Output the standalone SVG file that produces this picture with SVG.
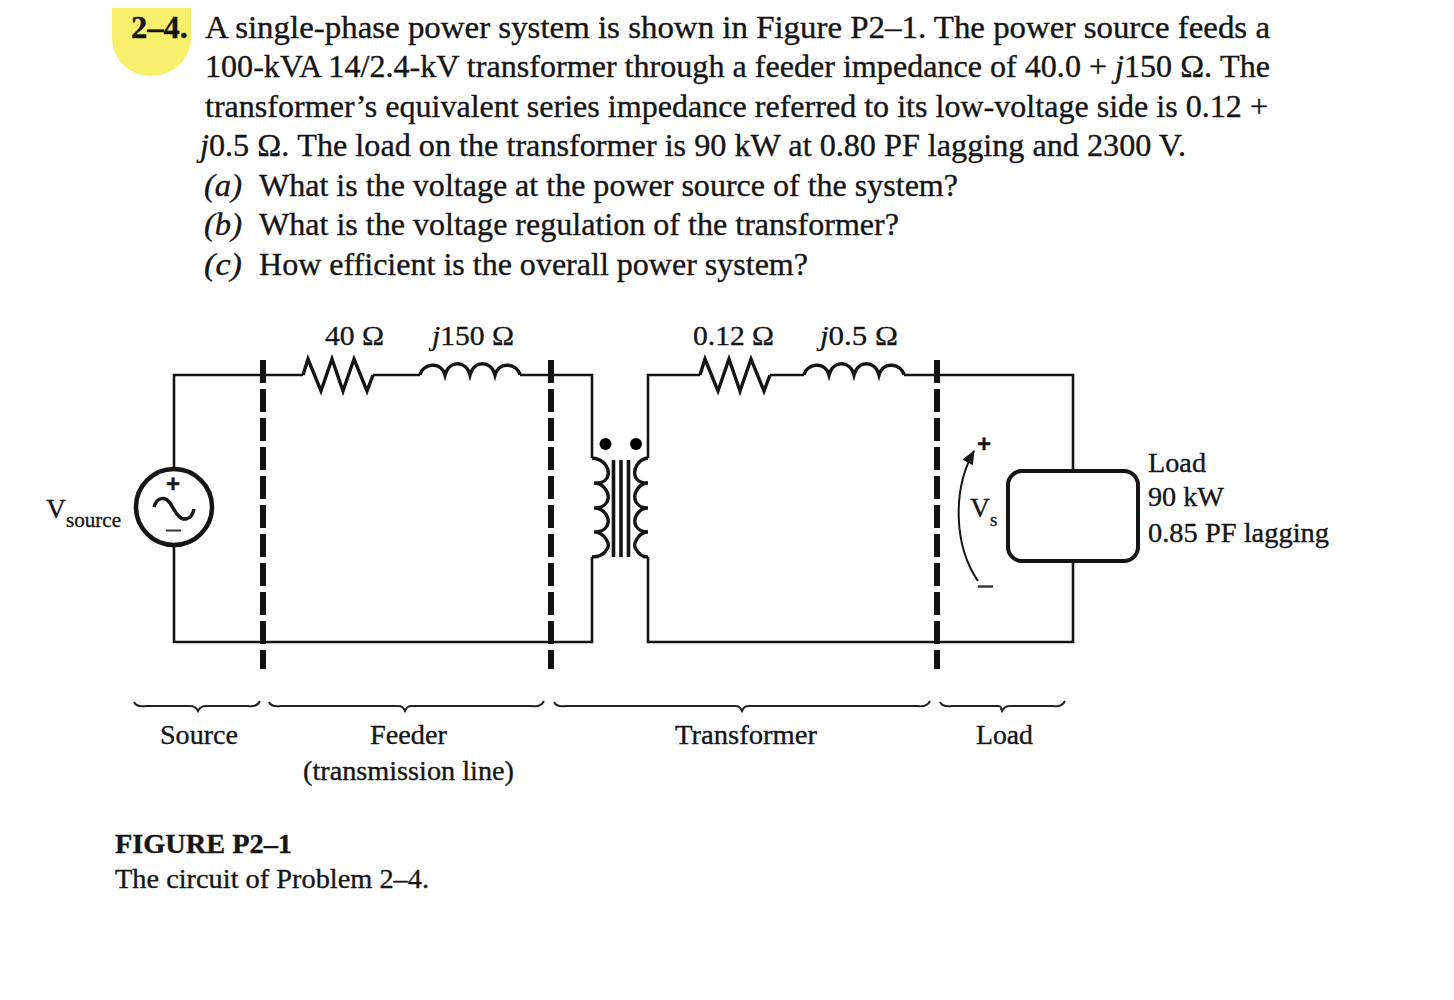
<svg xmlns="http://www.w3.org/2000/svg" width="1454" height="1000" viewBox="0 0 1454 1000">
<style>
text{font-family:"Liberation Serif","Times New Roman",serif;fill:#151515;stroke:#151515;stroke-width:.35px}
.body{font-size:31px}
.lab{font-size:27px}
.sign{font-family:"Liberation Sans",Arial,sans-serif;font-weight:700;font-size:24px;text-anchor:middle}
.w{fill:none;stroke:#151515;stroke-width:2.6}
.c{fill:none;stroke:#151515;stroke-width:3.4}
.d{fill:none;stroke:#111;stroke-width:6;stroke-dasharray:23 6}
.b{fill:none;stroke:#222;stroke-width:2}
</style>
<defs><marker id="arr" markerWidth="16" markerHeight="14" refX="13" refY="6" orient="auto" markerUnits="userSpaceOnUse"><path d="M0 0L14 6L0 12Z" fill="#151515"/></marker></defs>
<rect width="1454" height="1000" fill="#fff"/>
<path id="highlight" d="M112 8H191V37C191 60 172 76 151 76C130 76 112 60 112 37Z" fill="#f8f06c"/>
<g id="problem-text">
<text class="body" x="131" y="38" font-weight="700" textLength="57" lengthAdjust="spacingAndGlyphs">2–4.</text>
<text class="body" x="205" y="38" textLength="1065" lengthAdjust="spacingAndGlyphs">A single-phase power system is shown in Figure P2–1. The power source feeds a</text>
<text class="body" x="205" y="77" textLength="1065" lengthAdjust="spacingAndGlyphs">100-kVA 14/2.4-kV transformer through a feeder impedance of 40.0 + <tspan font-style="italic">j</tspan>150 Ω. The</text>
<text class="body" x="205" y="117" textLength="1063" lengthAdjust="spacingAndGlyphs">transformer’s equivalent series impedance referred to its low-voltage side is 0.12 +</text>
<text class="body" x="200" y="156" textLength="986" lengthAdjust="spacingAndGlyphs"><tspan font-style="italic">j</tspan>0.5 Ω. The load on the transformer is 90 kW at 0.80 PF lagging and 2300 V.</text>
<text class="body" x="204" y="196" font-style="italic" textLength="38" lengthAdjust="spacingAndGlyphs">(a)</text>
<text class="body" x="259" y="196" textLength="699" lengthAdjust="spacingAndGlyphs">What is the voltage at the power source of the system?</text>
<text class="body" x="204" y="235" font-style="italic" textLength="38" lengthAdjust="spacingAndGlyphs">(b)</text>
<text class="body" x="259" y="235" textLength="640" lengthAdjust="spacingAndGlyphs">What is the voltage regulation of the transformer?</text>
<text class="body" x="204" y="275" font-style="italic" textLength="38" lengthAdjust="spacingAndGlyphs">(c)</text>
<text class="body" x="259" y="275" textLength="549" lengthAdjust="spacingAndGlyphs">How efficient is the overall power system?</text>
</g>
<g id="connectors">
<path class="w" d="M174 469V375H303M373 375H420M520 375H592V458M592 557V642H174V545"/>
<path class="w" d="M648 458V375H700M770 375H804M904 375H1073V471M1073 561V642H648V557"/>
<path class="d" d="M263 360V669"/>
<path class="d" d="M551 360V669"/>
<path class="d" d="M937 360V669"/>
</g>
<g id="source">
<circle cx="174" cy="507" r="38" fill="#fff" stroke="#151515" stroke-width="4.5"/>
<path d="M154 507C157 497 165 496 170 503C175 511 179 520 186 519C191 518 193 514 194 509" fill="none" stroke="#151515" stroke-width="3.4"/>
<text class="sign" x="173" y="492">+</text>
<path d="M166 530.500H181" stroke="#333" stroke-width="2"/>
<text class="lab" x="46" y="518" textLength="20" lengthAdjust="spacingAndGlyphs">V</text>
<text class="lab" x="66" y="527" style="font-size:21px" textLength="55" lengthAdjust="spacingAndGlyphs">source</text>
</g>
<g id="feeder-r">
<path class="c" d="M303 375L308 359L321 391L332 359L343 391L354 359L367 391L373 375"/>
<text class="lab" x="325" y="345" textLength="59" lengthAdjust="spacingAndGlyphs">40 Ω</text>
</g>
<g id="feeder-x">
<path class="c" d="M420 375C422 364 441 360 445 375C449 360 466 360 470 375C474 360 491 360 495 375C499 360 518 364 520 375"/>
<text class="lab" x="432" y="345" textLength="82" lengthAdjust="spacingAndGlyphs"><tspan font-style="italic">j</tspan>150 Ω</text>
</g>
<g id="transformer">
<path class="c" d="M592 458C605 459 611 470 607 478C604 483 599 483 594 483C604 483 611 494 607 502C604 507 599 508 594 508C604 508 611 518 607 526C604 531 599 532 594 532C604 532 611 544 607 549C604 555 598 557 592 557"/>
<path class="c" d="M648 458C638 459 632 470 636 478C639 483 644 483 648 483C639 483 632 494 636 502C639 507 644 508 648 508C639 508 632 518 636 526C639 531 644 532 648 532C639 532 632 544 636 549C639 555 644 557 648 557"/>
<path d="M613.500 460V557M621 460V557M628.500 460V557" fill="none" stroke="#151515" stroke-width="3.600"/>
<circle cx="605.500" cy="444" r="6"/>
<circle cx="636" cy="444" r="6"/>
</g>
<g id="transformer-r">
<path class="c" d="M700 375L705 359L718 391L729 359L740 391L751 359L764 391L770 375"/>
<text class="lab" x="693" y="345" textLength="81" lengthAdjust="spacingAndGlyphs">0.12 Ω</text>
</g>
<g id="transformer-x">
<path class="c" d="M804 375C806 364 825 360 829 375C833 360 850 360 854 375C858 360 875 360 879 375C883 360 902 364 904 375"/>
<text class="lab" x="820" y="345" textLength="78" lengthAdjust="spacingAndGlyphs"><tspan font-style="italic">j</tspan>0.5 Ω</text>
</g>
<g id="load">
<rect x="1008" y="471" width="130" height="90" rx="14" fill="#fff" stroke="#151515" stroke-width="4"/>
<path d="M978 581C954 546 952 490 974 451" fill="none" stroke="#151515" stroke-width="2" marker-end="url(#arr)"/>
<text class="sign" x="984" y="452">+</text>
<path d="M978 586.500H993" stroke="#333" stroke-width="2.400"/>
<text class="lab" x="970" y="517" textLength="20" lengthAdjust="spacingAndGlyphs">V</text>
<text class="lab" x="990" y="526" style="font-size:19px">s</text>
<text class="lab" x="1148" y="472" textLength="58" lengthAdjust="spacingAndGlyphs">Load</text>
<text class="lab" x="1148" y="506" textLength="76" lengthAdjust="spacingAndGlyphs">90 kW</text>
<text class="lab" x="1148" y="542" textLength="181" lengthAdjust="spacingAndGlyphs">0.85 PF lagging</text>
</g>
<g id="section-source">
<path class="b" d="M134 702C136 706 140 707 146 706H190C194 706 196 707 198 711C200 707 202 706 206 706H248C254 707 258 705 260 701"/>
<text class="lab" x="160" y="744" textLength="78" lengthAdjust="spacingAndGlyphs">Source</text>
</g>
<g id="section-feeder">
<path class="b" d="M269 702C271 706 275 707 281 706H398C402 706 403 707 405 711C407 707 408 706 412 706H532C538 707 542 705 544 701"/>
<text class="lab" x="370" y="744" textLength="77" lengthAdjust="spacingAndGlyphs">Feeder</text>
<text class="lab" x="303" y="780" textLength="211" lengthAdjust="spacingAndGlyphs">(transmission line)</text>
</g>
<g id="section-transformer">
<path class="b" d="M554 702C556 706 560 707 566 706H735C739 706 740 707 742 711C744 707 745 706 749 706H918C924 707 928 705 930 701"/>
<text class="lab" x="675" y="744" textLength="142" lengthAdjust="spacingAndGlyphs">Transformer</text>
</g>
<g id="section-load">
<path class="b" d="M940 702C942 706 946 707 952 706H998C1002 706 1000 707 1002 711C1004 707 1006 706 1010 706H1053C1059 707 1063 705 1065 701"/>
<text class="lab" x="976" y="744" textLength="57" lengthAdjust="spacingAndGlyphs">Load</text>
</g>
<g id="caption">
<text class="lab" x="115" y="853" font-weight="700" textLength="177" lengthAdjust="spacingAndGlyphs">FIGURE P2–1</text>
<text class="lab" x="115" y="888" textLength="314" lengthAdjust="spacingAndGlyphs">The circuit of Problem 2–4.</text>
</g>
</svg>
